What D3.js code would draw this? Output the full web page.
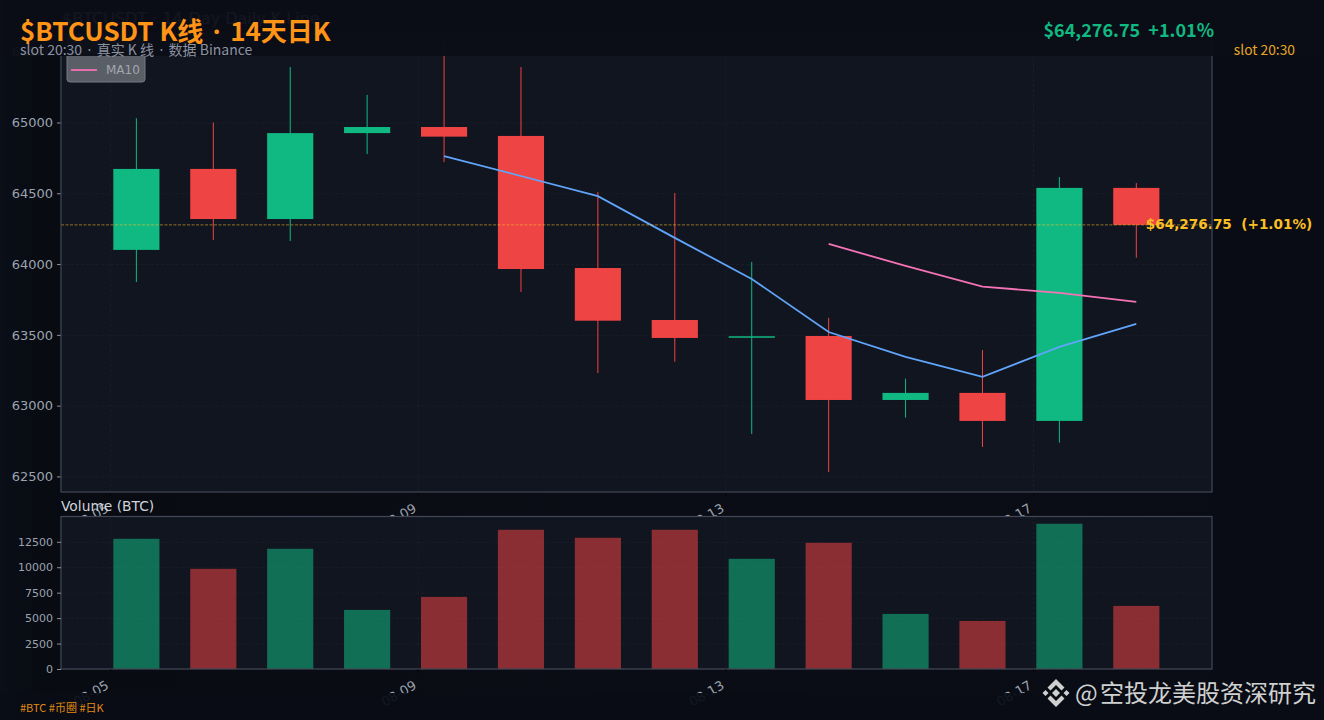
<!DOCTYPE html>
<html>
<head>
<meta charset="utf-8">
<title>BTCUSDT K</title>
<script src="https://d3js.org/d3.v7.min.js"></script>
<style>
html, body { margin: 0; padding: 0; background: #090c14; overflow: hidden; }
text { font-family: "DejaVu Sans", sans-serif; }
.cjk { font-family: "Noto Sans CJK SC", sans-serif; }
.dot { font-family: "Noto Sans", sans-serif; }
</style>
</head>
<body>
<script>

// data
var dates  = ["08-05","08-06","08-07","08-08","08-09","08-10","08-11","08-12","08-13","08-14","08-15","08-16","08-17","08-18"];
var opens  = [64100,64672,64318,64925,64968,64905,63972,63605,63480,63492,63040,63090,62892,64538];
var closes = [64672,64318,64925,64968,64900,63965,63600,63478,63490,63040,63090,62892,64538,64276.75];
var highs  = [65030,65000,65392,65195,65560,65392,64510,64502,64015,63620,63190,63393,64615,64572];
var lows   = [63873,64170,64163,64778,64720,63803,63230,63310,62800,62532,62915,62708,62738,64045];
var volumes = [12795,9843,11811,5807,7087,13681,12894,13681,10827,12402,5413,4724,14272,6200];
var ma5  = [null,null,null,null,64763,64622,64480,64185,63895,63520,63345,63203,63415,63577];
var ma10 = [null,null,null,null,null,null,null,null,null,64142,63987,63840,63797,63733];
var priceTicks = [62500,63000,63500,64000,64500,65000,65500];
var volumeTicks = [0,2500,5000,7500,10000,12500];
var dateTicks = [0,4,8,12];
var lastPrice = 64276.75;

var W = 1324, H = 720;
var left = 61, right = 1212;
var mainTop = 34, mainBottom = 492;
var volTop = 516.5, volBottom = 669;
var candleShift = 0.343;   // candles sit a bit after their date tick
var green = "#10b981", red = "#ef4444", blue = "#60a5fa", pink = "#f472b6";

var x = d3.scaleLinear().domain([-0.637, 14.327]).range([left, right]);
var y = d3.scaleLinear().domain([62390, 65625]).range([mainBottom, mainTop]);
var yv = d3.scaleLinear().domain([0, 14985]).range([volBottom, volTop]);
var bodyW = x(0.6) - x(0);

var idx = d3.range(dates.length);
function cx(i) { return x(i + candleShift); }
function col(i) { return closes[i] >= opens[i] ? green : red; }

var svg = d3.select("body").append("svg").attr("width", W).attr("height", H).style("display", "block");

var defs = svg.append("defs");
var bg = defs.append("linearGradient").attr("id", "bg");
bg.append("stop").attr("offset", "0").attr("stop-color", "#0a0f18");
bg.append("stop").attr("offset", "0.03").attr("stop-color", "#080b12");
bg.append("stop").attr("offset", "0.5").attr("stop-color", "#0a0d15");
bg.append("stop").attr("offset", "1").attr("stop-color", "#090c14");

svg.append("rect").attr("width", W).attr("height", H).attr("fill", "url(#bg)");

// ---- main panel
svg.append("text").attr("x", 62).attr("y", 24).attr("font-size", 16).attr("fill", "#e5e7eb")
  .text("$BTCUSDT · 14-Day Daily K Line");

svg.append("rect").attr("x", left).attr("y", mainTop).attr("width", right - left).attr("height", mainBottom - mainTop).attr("fill", "#111520");

function grid(g, vals, yScale, top, bottom) {
  g.selectAll(".gy").data(vals).enter().append("line")
    .attr("x1", left).attr("x2", right)
    .attr("y1", function(d) { return yScale(d) + 0.5; }).attr("y2", function(d) { return yScale(d) + 0.5; })
    .attr("stroke", "#ffffff").attr("stroke-opacity", 0.035).attr("stroke-dasharray", "3,2");
  g.selectAll(".gx").data(dateTicks).enter().append("line")
    .attr("x1", function(d) { return x(d) + 0.5; }).attr("x2", function(d) { return x(d) + 0.5; })
    .attr("y1", top).attr("y2", bottom)
    .attr("stroke", "#ffffff").attr("stroke-opacity", 0.035).attr("stroke-dasharray", "3,2");
}
grid(svg.append("g"), priceTicks, y, mainTop, mainBottom);

function styleAxis(g, size, color) {
  g.select(".domain").remove();
  g.selectAll("text").attr("fill", color).attr("font-size", size);
  g.selectAll("line").attr("stroke", "#8b92a0");
}

var yAxis = svg.append("g").attr("transform", "translate(" + left + ",0)")
  .call(d3.axisLeft(y).tickValues(priceTicks).tickFormat(d3.format("d")).tickSize(4).tickPadding(4));
styleAxis(yAxis, 13, "#9ca3af");

function dateAxis(yPos) {
  var g = svg.append("g").attr("transform", "translate(0," + yPos + ")")
    .call(d3.axisBottom(x).tickValues(dateTicks).tickFormat(function(d) { return dates[d]; }).tickSize(4));
  g.select(".domain").remove();
  g.selectAll("line").attr("stroke", "#000000").attr("stroke-opacity", 0.6);
  g.selectAll("text").attr("fill", "#9ca3af").attr("font-size", 13)
    .attr("text-anchor", "end").attr("y", 0).attr("dy", "0.35em").attr("transform", "translate(-3,15) rotate(-30)");
  return g;
}
dateAxis(mainBottom);

// candles
svg.selectAll(".wick").data(idx).enter().append("line").attr("class", "wick")
  .attr("x1", cx).attr("x2", cx)
  .attr("y1", function(i) { return y(highs[i]); }).attr("y2", function(i) { return y(lows[i]); })
  .attr("stroke", col).attr("stroke-width", 1);
svg.selectAll(".body").data(idx).enter().append("rect").attr("class", "body")
  .attr("x", function(i) { return cx(i) - bodyW / 2; })
  .attr("width", bodyW)
  .attr("y", function(i) { return y(Math.max(opens[i], closes[i])); })
  .attr("height", function(i) { return Math.max(1.5, Math.abs(y(opens[i]) - y(closes[i]))); })
  .attr("fill", col);

var line = d3.line()
  .defined(function(d) { return d != null; })
  .x(function(d, i) { return cx(i); })
  .y(function(d) { return y(d); });
svg.append("path").datum(ma5).attr("d", line).attr("fill", "none").attr("stroke", blue).attr("stroke-width", 1.8);
svg.append("path").datum(ma10).attr("d", line).attr("fill", "none").attr("stroke", pink).attr("stroke-width", 1.8);

// last price line
svg.append("line").attr("x1", left).attr("x2", right)
  .attr("y1", y(lastPrice)).attr("y2", y(lastPrice))
  .attr("stroke", "#fbbf24").attr("stroke-opacity", 0.7).attr("stroke-width", 0.8).attr("stroke-dasharray", "3,1.5");
svg.append("text").attr("x", cx(13) + 9.5).attr("y", y(lastPrice) + 4.5)
  .attr("font-size", 13.6).attr("font-weight", "bold").attr("fill", "#fbbf24").attr("xml:space", "preserve")
  .text("$64,276.75  (+1.01%)");

svg.append("rect").attr("x", left).attr("y", mainTop).attr("width", right - left).attr("height", mainBottom - mainTop)
  .attr("fill", "none").attr("stroke", "#434858").attr("stroke-width", 1.2);

// legend
var legend = svg.append("g");
legend.append("rect").attr("x", 67).attr("y", 36).attr("width", 78).attr("height", 46).attr("rx", 3)
  .attr("fill", "#5a5e66").attr("stroke", "#767a82");
[["MA5", blue, 52], ["MA10", pink, 70]].forEach(function(r) {
  legend.append("line").attr("x1", 71).attr("x2", 97).attr("y1", r[2]).attr("y2", r[2]).attr("stroke", r[1]).attr("stroke-width", 1.8);
  legend.append("text").attr("x", 106).attr("y", r[2] + 4).attr("font-size", 12).attr("fill", "#a3a7ae").text(r[0]);
});

// ---- volume panel
svg.append("rect").attr("x", left).attr("y", volTop).attr("width", right - left).attr("height", volBottom - volTop).attr("fill", "#111520");
grid(svg.append("g"), volumeTicks, yv, volTop, volBottom);

svg.selectAll(".vol").data(idx).enter().append("rect").attr("class", "vol")
  .attr("x", function(i) { return cx(i) - bodyW / 2; })
  .attr("width", bodyW)
  .attr("y", function(i) { return yv(volumes[i]); })
  .attr("height", function(i) { return yv(0) - yv(volumes[i]); })
  .attr("fill", col).attr("fill-opacity", 0.55);

svg.append("rect").attr("x", left).attr("y", volTop).attr("width", right - left).attr("height", volBottom - volTop)
  .attr("fill", "none").attr("stroke", "#434858").attr("stroke-width", 1.2);

var vAxis = svg.append("g").attr("transform", "translate(" + left + ",0)")
  .call(d3.axisLeft(yv).tickValues(volumeTicks).tickFormat(d3.format("d")).tickSize(4).tickPadding(4));
styleAxis(vAxis, 11, "#9ca3af");

svg.append("text").attr("x", left).attr("y", 511).attr("font-size", 13.8).attr("fill", "#d1d5db").text("Volume (BTC)");

dateAxis(volBottom);

// ---- header and footer bands over the chart
svg.append("rect").attr("width", W).attr("height", 56).attr("fill", "#0b0e17").attr("fill-opacity", 0.96);
svg.append("rect").attr("y", 693).attr("width", W).attr("height", 27).attr("fill", "#0a0d15").attr("fill-opacity", 0.93);

// the middle dots are narrow ones, so they get their own font and a little air
function dotted(sel, parts, gap) {
  parts.forEach(function(p, i) {
    if (i > 0) {
      sel.append("tspan").attr("class", "dot").attr("dx", gap).text(" · ");
      sel.append("tspan").attr("dx", gap).text(p);
    } else {
      sel.append("tspan").text(p);
    }
  });
}
dotted(svg.append("text").attr("class", "cjk").attr("x", 20).attr("y", 41).attr("font-size", 26).attr("font-weight", 700).attr("fill", "#ff9416"),
  ["$BTCUSDT K线", "14天日K"], 3);
dotted(svg.append("text").attr("class", "cjk").attr("x", 20).attr("y", 55).attr("font-size", 14).attr("fill", "#8b92a0"),
  ["slot 20:30", "真实 K 线", "数据 Binance"], 1.75);
svg.append("text").attr("class", "cjk").attr("x", 1214).attr("y", 37).attr("text-anchor", "end").attr("font-size", 18).attr("font-weight", 700).attr("fill", green).attr("xml:space", "preserve")
  .text("$64,276.75  +1.01%");
svg.append("text").attr("class", "cjk").attr("x", 1295).attr("y", 55).attr("text-anchor", "end").attr("font-size", 13.8).attr("fill", "#e6a823")
  .text("slot 20:30");
svg.append("text").attr("class", "cjk").attr("x", 20).attr("y", 712).attr("font-size", 11).attr("fill", "#e08a10")
  .text("#BTC #币圈 #日K");

// watermark
var logo = svg.append("g").attr("transform", "translate(1056,693)").attr("fill", "#d0d0d0");
logo.append("path").attr("d", "M0,-4 L4,0 L0,4 L-4,0Z");
logo.append("path").attr("d", "M-10.5,-3 L-7.5,0 L-10.5,3 L-13.5,0Z M10.5,-3 L13.5,0 L10.5,3 L7.5,0Z");
logo.append("path").attr("d", "M0,-14 L8.5,-5.5 L5.5,-2.5 L0,-8 L-5.5,-2.5 L-8.5,-5.5Z");
logo.append("path").attr("d", "M0,14 L8.5,5.5 L5.5,2.5 L0,8 L-5.5,2.5 L-8.5,5.5Z");
svg.append("text").attr("class", "cjk").attr("x", 1075).attr("y", 702).attr("font-size", 24).attr("fill", "#d0d0d0").text("@");
svg.append("text").attr("class", "cjk").attr("x", 1100).attr("y", 702).attr("font-size", 24).attr("fill", "#d0d0d0").text("空投龙美股资深研究");

</script>
</body>
</html>
